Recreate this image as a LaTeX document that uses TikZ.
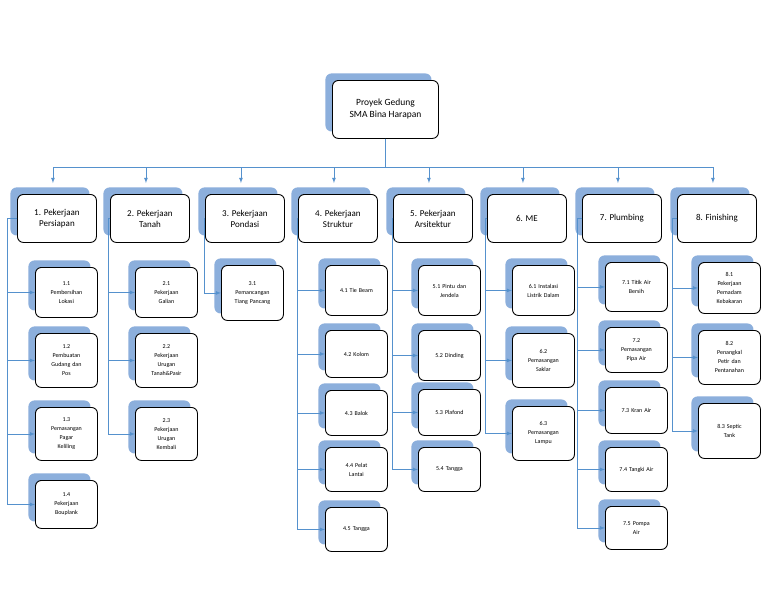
\documentclass[tikz,border=0pt]{standalone}
\usepackage{fontspec}
\setmainfont{Carlito}
\usetikzlibrary{shadows,calc}
\definecolor{shb}{RGB}{140,175,220}
\definecolor{lnb}{RGB}{85,145,205}
\tikzset{
 wbox/.style={draw=black,line width=0.9pt,fill=white,rounded corners=6pt,anchor=north west,align=center,inner sep=1pt,
   drop shadow={shadow xshift=-7pt,shadow yshift=7pt,fill=shb,opacity=1,draw=none}},
 topbox/.style={wbox,minimum width=79pt,minimum height=48pt,font=\fontsize{9}{11}\selectfont},
 kid/.style={wbox,minimum width=62pt,minimum height=50pt,text width=58pt,font=\fontsize{6}{9}\selectfont},
 ln/.style={draw=lnb,line width=0.8pt},
 arr/.style={ln,-latex},
}
\newcommand{\kidbox}[5]{\node[kid,minimum height=#4pt] (#1) at (#2,#3) {#5};}
\begin{document}
\begin{tikzpicture}[x=1pt,y=-1pt]
\useasboundingbox[fill=white] (0,0) rectangle (768,594);
\node[wbox,minimum width=106pt,minimum height=58pt,font=\fontsize{9.5}{12}\selectfont] (root) at (332,80) {Proyek Gedung\\SMA Bina Harapan};
\node[topbox] (p1) at (17,194) {1. Pekerjaan\\Persiapan};
\node[topbox] (p2) at (110,194) {2. Pekerjaan\\Tanah};
\node[topbox] (p3) at (205,194) {3. Pekerjaan\\Pondasi};
\node[topbox] (p4) at (298,194) {4. Pekerjaan\\Struktur};
\node[topbox] (p5) at (393,194) {5. Pekerjaan\\Arsitektur};
\node[topbox] (p6) at (487,194) {6. ME};
\node[topbox] (p7) at (582,194) {7. Plumbing};
\node[topbox] (p8) at (677,194) {8. Finishing};
\foreach \p in {p1,p2,p3,p4,p5,p6,p7,p8}{
 \draw[arr] (root.south) |- ($(\p.north)+(-4,-27)$) -- ($(\p.north)+(-4,-11)$);
}
% children
\kidbox{c11}{35}{267}{50}{1.1\\Pembersihan\\Lokasi}
\kidbox{c12}{35}{333}{54}{1.2\\Pembuatan\\Gudang dan\\Pos}
\kidbox{c13}{35}{407}{53}{1.3\\Pemasangan\\Pagar\\Keliling}
\kidbox{c14}{35}{480}{48}{1.4\\Pekerjaan\\Bouplank}
\kidbox{c21}{135}{267}{50}{2.1\\Pekerjaan\\Galian}
\kidbox{c22}{135}{333}{54}{2.2\\Pekerjaan\\Urugan\\Tanah\&Pasir}
\kidbox{c23}{135}{407}{53}{2.3\\Pekerjaan\\Urugan\\Kembali}
\kidbox{c31}{221}{265}{55}{3.1\\Pemancangan\\Tiang Pancang}
\kidbox{c41}{325}{265}{50}{4.1 Tie Beam}
\kidbox{c42}{325}{330}{47}{4.2 Kolom}
\kidbox{c43}{325}{390}{45}{4.3 Balok}
\kidbox{c44}{325}{447}{44}{4.4 Pelat\\Lantai}
\kidbox{c45}{325}{507}{44}{4.5 Tangga}
\kidbox{c51}{418}{265}{50}{5.1 Pintu dan\\Jendela}
\kidbox{c52}{418}{330}{50}{5.2 Dinding}
\kidbox{c53}{418}{389}{46}{5.3 Plafond}
\kidbox{c54}{418}{447}{44}{5.4 Tangga}
\kidbox{c61}{512}{265}{50}{6.1 Instalasi\\Listrik Dalam}
\kidbox{c62}{512}{333}{54}{6.2\\Pemasangan\\Saklar}
\kidbox{c63}{512}{406}{54}{6.3\\Pemasangan\\Lampu}
\kidbox{c71}{605}{262}{49}{7.1 Titik Air\\Bersih}
\kidbox{c72}{605}{327}{45}{7.2\\Pemasangan\\Pipa Air}
\kidbox{c73}{605}{387}{46}{7.3 Kran Air}
\kidbox{c74}{605}{447}{44}{7.4 Tangki Air}
\kidbox{c75}{605}{506}{43}{7.5 Pompa\\Air}
\kidbox{c81}{698}{262}{51}{8.1\\Pekerjaan\\Pemadam\\Kebakaran}
\kidbox{c82}{698}{330}{54}{8.2\\Penangkal\\Petir dan\\Pentanahan}
\kidbox{c83}{698}{403}{55}{8.3 Septic\\Tank}
% trunk connectors
\newcommand{\conn}[3]{\foreach \c in {#3}{\draw[arr] (#1.west) -- ++(-#2,0) |- (\c.west);}}
\conn{p1}{10}{c11,c12,c13,c14}
\conn{p2}{2}{c21,c22,c23}
\conn{p3}{1}{c31}
\conn{p4}{1}{c41,c42,c43,c44,c45}
\conn{p5}{1}{c51,c52,c53,c54}
\conn{p6}{2}{c61,c62,c63}
\conn{p7}{5}{c71,c72,c73,c74,c75}
\conn{p8}{5}{c81,c82,c83}
\end{tikzpicture}
\end{document}
